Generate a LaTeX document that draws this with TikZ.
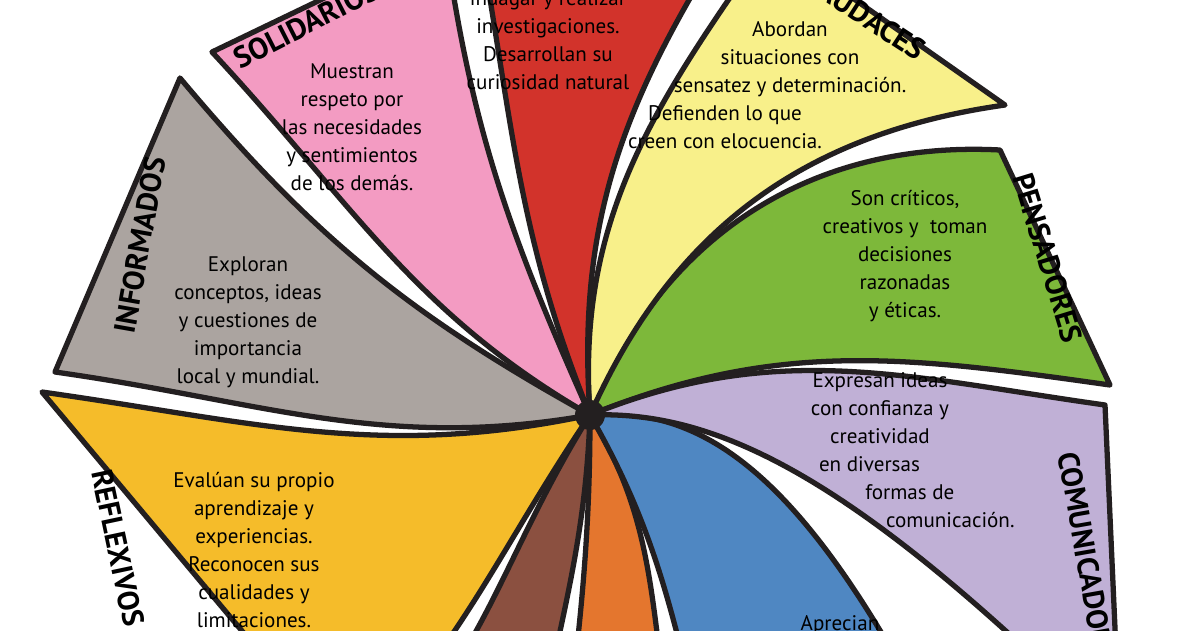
\documentclass[tikz,border=0pt]{standalone}
\usepackage{fontspec}
\setmainfont{PT Sans}
\usetikzlibrary{calc}
\definecolor{cgreen}{HTML}{7DB83A}
\definecolor{cyellow}{HTML}{F8F08A}
\definecolor{cred}{HTML}{D2332B}
\definecolor{cpink}{HTML}{F39BC2}
\definecolor{cgray}{HTML}{ABA4A0}
\definecolor{corye}{HTML}{F5BC2A}
\definecolor{cbrown}{HTML}{8B5040}
\definecolor{corange}{HTML}{E4762E}
\definecolor{cblue}{HTML}{4F87C2}
\definecolor{cpurple}{HTML}{C0B0D6}
\definecolor{outl}{HTML}{231F20}
\begin{document}
\begin{tikzpicture}[x=0.02cm,y=0.02cm,
  petal/.style={draw=outl,line width=3pt,line join=round},
  body/.style={font=\fontsize{12}{16}\selectfont,align=center,text=black},
  ttl/.style={font=\fontsize{17}{17}\selectfont\bfseries,text=black}]
\useasboundingbox (0,0) rectangle (1200,-630);
\clip (0,0) rectangle (1200,-630);
\fill[white] (0,0) rectangle (1200,-630);
\coordinate (C) at (590,-415);
% petal: color, cw start, cw end heading, cw corner, ccw corner, ccw start, ccw end heading
\def\petal#1#2#3#4#5#6#7{%
  \filldraw[petal,fill=#1] (C) to[out=#2,in=#3+180] #4 -- #5 to[out=#7+180,in=#6] (C);}
\petal{cgreen}{22}{-8}{(1110,-385)}{(1000,-150)}{68}{-3}
\petal{cyellow}{66}{8}{(1005,-105)}{(770,60)}{94}{55}
\petal{cred}{94}{58}{(725,60)}{(480,60)}{112}{100}
\petal{cpink}{114}{98}{(445,60)}{(212,-52)}{150}{133}
\petal{cgray}{151}{130}{(180,-78)}{(55,-372)}{190}{172}
\petal{corye}{192}{172}{(42,-392)}{(350,-760)}{236}{226}
\petal{cbrown}{238}{228}{(385,-760)}{(528,-800)}{268}{262}
\petal{corange}{270}{264}{(560,-800)}{(690,-800)}{-58}{-72}
\filldraw[petal,fill=cblue] (C) to[out=-60,in=106] (720,-800) -- (930,-720)
  .. controls (800,-470) and (700,-405) .. (C);
\filldraw[petal,fill=cpurple] (C) .. controls (720,-410) and (860,-480) .. (1120,-740)
  -- (1105,-405) to[out=172,in=22] (C);
\fill[outl] (C) circle (15);
% texts
\node[body] (tred) at (548,-40) {indagar y realizar\\investigaciones.\\Desarrollan su\\curiosidad natural};
\node[body] (tyel) at (790,-85) {Abordan\\situaciones con\\sensatez y determinación.\\\hspace*{-74pt}Defienden lo que\\\hspace*{-74pt}creen con elocuencia.};
\node[body] (tpink) at (352,-127) {Muestran\\respeto por\\las necesidades\\y sentimientos\\de los demás.};
\node[body] (tgray) at (248,-322) {Exploran\\conceptos, ideas\\y cuestiones de\\importancia\\local y mundial.};
\node[body] (tgreen) at (905,-256) {Son críticos,\\creativos y \ toman\\decisiones\\razonadas\\y éticas.};
\node[body] (tpurp) at (880,-450) {Expresan ideas\\con confianza y\\creatividad\\\hspace*{-12pt}en diversas\\\hspace*{34pt}formas de\\\hspace*{80pt}comunicación.};
\node[body] (tory) at (254,-550) {Evalúan su propio\\aprendizaje y\\experiencias.\\Reconocen sus\\cualidades y\\limitaciones.};
\node[body] (tblue) at (840,-625) {Aprecian};
% titles
\node[ttl,rotate=27] (hsol) at (306,-24) {SOLIDARIOS};
\node[ttl,rotate=80] (hinf) at (140,-245) {INFORMADOS};
\node[ttl,rotate=-78] (href) at (118,-548) {REFLEXIVOS};
\node[ttl,rotate=-73] (hpen) at (1048,-258) {PENSADORES};
\node[ttl,rotate=-80] (hcom) at (1088,-565) {COMUNICADORES};
\node[ttl,rotate=-33] (haud) at (872,-20) {AUDACES};
\end{tikzpicture}
\end{document}
